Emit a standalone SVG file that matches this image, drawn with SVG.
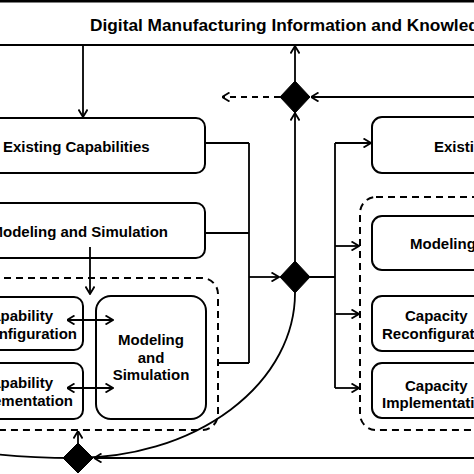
<svg xmlns="http://www.w3.org/2000/svg" width="474" height="474" viewBox="0 0 474 474">
<style>
.box{fill:#fff;stroke:#000;stroke-width:2}
.grp{fill:none;stroke:#000;stroke-width:2;stroke-dasharray:7 5}
.t{font-family:"Liberation Sans",Arial,sans-serif;font-weight:bold;font-size:15px;fill:#000}
.h{font-size:17.3px}
.c{fill:none;stroke:#000;stroke-width:1.8}
.d{fill:#000;stroke:#000;stroke-width:1}
.ar{marker-end:url(#a)}
.dash{stroke-dasharray:6 5}
</style>
<defs>
<marker id="a" viewBox="0 0 10 10" refX="9.5" refY="5" markerWidth="10" markerHeight="10" markerUnits="userSpaceOnUse" orient="auto-start-reverse">
<path d="M2,0.5 L9.5,5 L2,9.5" fill="none" stroke="#000" stroke-width="1.8"/>
</marker>
</defs>
<rect width="474" height="474" fill="#fff"/>

<g id="header">
<rect x="-20" y="1" width="520" height="44" fill="#fff" stroke="#000" stroke-width="2"/>
<line x1="-20" y1="1" x2="500" y2="1" stroke="#000" stroke-width="3"/>
<text class="t h" x="90" y="31">Digital Manufacturing Information and Knowledge</text>
</g>

<g id="left-group">
<rect class="grp" x="-60" y="278" width="278" height="152" rx="16"/>
</g>
<g id="right-group">
<rect class="grp" x="360" y="197" width="200" height="233" rx="16"/>
</g>

<g id="left-existing">
<rect class="box" x="-60" y="118" width="265" height="55" rx="9"/>
<text class="t" x="3" y="152">Existing Capabilities</text>
</g>
<g id="left-modeling">
<rect class="box" x="-60" y="203" width="265" height="55" rx="9"/>
<text class="t" x="168" y="237" text-anchor="end">Modeling and Simulation</text>
</g>
<g id="cap-config">
<rect class="box" x="-40" y="297" width="123" height="53" rx="9"/>
<text class="t" x="53" y="321" text-anchor="end">Capability</text>
<text class="t" x="77" y="339" text-anchor="end">Configuration</text>
</g>
<g id="cap-impl">
<rect class="box" x="-40" y="363" width="123" height="56" rx="9"/>
<text class="t" x="53" y="388" text-anchor="end">Capability</text>
<text class="t" x="73" y="406" text-anchor="end">Implementation</text>
</g>
<g id="inner-modeling">
<rect class="box" x="96" y="296" width="110" height="123" rx="15"/>
<text class="t" x="151" y="345" text-anchor="middle">Modeling</text>
<text class="t" x="151" y="363" text-anchor="middle">and</text>
<text class="t" x="151" y="380" text-anchor="middle">Simulation</text>
</g>

<g id="right-existing">
<rect class="box" x="372" y="117" width="180" height="56" rx="10"/>
<text class="t" x="434" y="152">Existing Capacity</text>
</g>
<g id="right-modeling">
<rect class="box" x="372" y="216" width="180" height="54" rx="10"/>
<text class="t" x="410" y="249">Modeling and Simulation</text>
</g>
<g id="cap-reconfig">
<rect class="box" x="372" y="296" width="180" height="55" rx="10"/>
<text class="t" x="405" y="321">Capacity</text>
<text class="t" x="382" y="339">Reconfiguration</text>
</g>
<g id="cap-implement">
<rect class="box" x="372" y="363" width="180" height="55" rx="10"/>
<text class="t" x="405" y="391">Capacity</text>
<text class="t" x="382" y="408">Implementation</text>
</g>

<g id="connectors">
<path class="c ar" d="M83,45 V117"/>
<path class="c ar" d="M295,262 V113"/>
<path class="c ar" d="M295,81 V46"/>
<path class="c ar dash" d="M280,97 H222"/>
<path class="c ar" d="M480,97 H311"/>
<path class="c" d="M205,143 H249 M249,143 V363 M205,233 H249 M218,363 H249"/>
<path class="c ar" d="M249,277 H279"/>
<path class="c" d="M310,277 H335 M335,143 V388"/>
<path class="c ar" d="M335,143 H371"/>
<path class="c ar" d="M335,246 H359"/>
<path class="c ar" d="M335,314 H359"/>
<path class="c ar" d="M335,388 H359"/>
<path class="c ar" d="M90,247 V294"/>
<path class="c ar" style="marker-start:url(#a)" d="M67,320 H113"/>
<path class="c ar" style="marker-start:url(#a)" d="M67,388 H113"/>
<path class="c ar" d="M480,458 H94"/>
<path class="c ar" d="M78,443 V431"/>
<path class="c" d="M295,293 A220,165 0 0 1 75,458 Q30,458 -5,454"/>
</g>

<g id="decision-top"><polygon class="d" points="295,81 310,97 295,113 280,97"/></g>
<g id="decision-mid"><polygon class="d" points="295,261 310,277 295,293 280,277"/></g>
<g id="decision-bottom"><polygon class="d" points="78,443 93,458 78,473 63,458"/></g>
</svg>
